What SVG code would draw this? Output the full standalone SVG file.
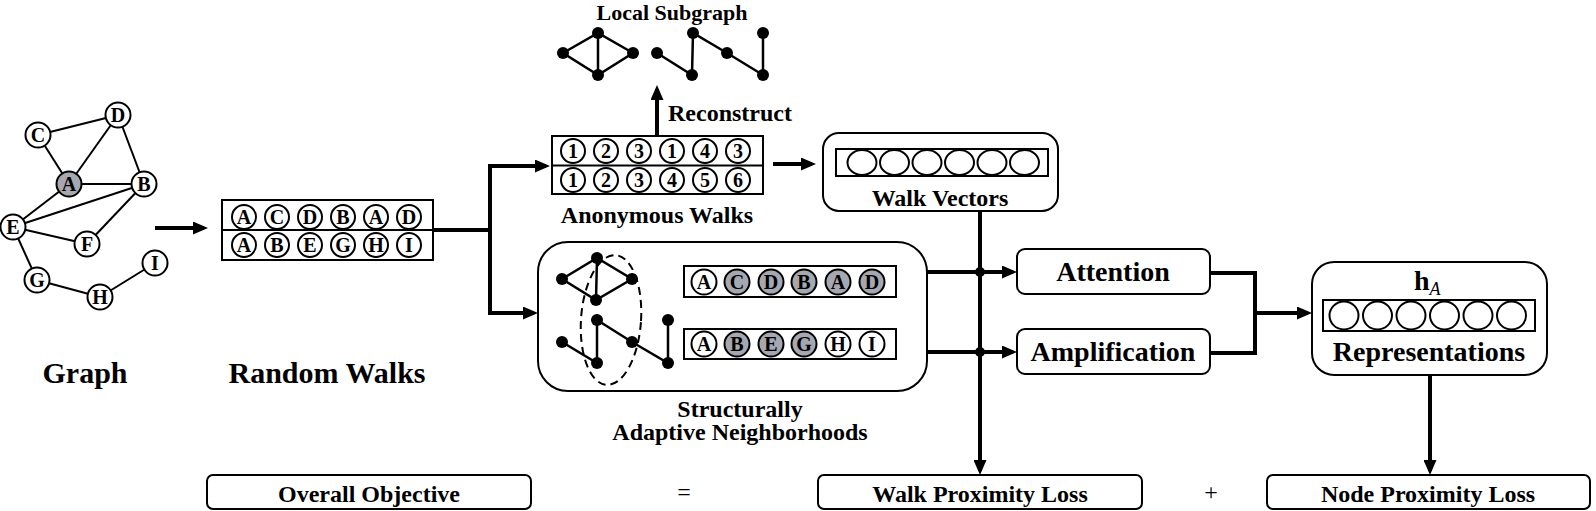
<svg xmlns="http://www.w3.org/2000/svg" width="1596" height="511" viewBox="0 0 1596 511">
<style>
.t{font-family:"Liberation Serif","Times New Roman",serif;font-weight:bold;text-anchor:middle;fill:#000}
.lbl{font-size:20px}
.n{fill:#fff;stroke:#000;stroke-width:2}
.gr{fill:#a5a8b0}
.e{stroke:#000;stroke-width:2;fill:none}
.e2{stroke:#000;stroke-width:2.5;fill:none}
.dot{fill:#000}
.box{fill:#fff;stroke:#000;stroke-width:2}
.c{stroke:#000;stroke-width:4;fill:none}
</style>
<defs>
<marker id="ah" markerUnits="userSpaceOnUse" markerWidth="15" markerHeight="13" refX="11" refY="6.5" orient="auto">
<path d="M0,0 L15,6.5 L0,13 z" fill="#000"/>
</marker>
</defs>

<!-- Graph -->
<g id="graph">
<g class="e">
<line x1="38" y1="135" x2="118" y2="115"/>
<line x1="38" y1="135" x2="69" y2="184"/>
<line x1="69" y1="184" x2="118" y2="115"/>
<line x1="118" y1="115" x2="144" y2="184"/>
<line x1="69" y1="184" x2="144" y2="184"/>
<line x1="69" y1="184" x2="13" y2="227"/>
<line x1="13" y1="227" x2="144" y2="184"/>
<line x1="13" y1="227" x2="87" y2="244"/>
<line x1="87" y1="244" x2="144" y2="184"/>
<line x1="13" y1="227" x2="37" y2="280"/>
<line x1="37" y1="280" x2="100" y2="297"/>
<line x1="100" y1="297" x2="155" y2="263"/>
</g>
<circle class="n" cx="38" cy="135" r="12.5"/><text class="t lbl" x="38" y="142">C</text>
<circle class="n" cx="118" cy="115" r="12.5"/><text class="t lbl" x="118" y="122">D</text>
<circle class="n gr" cx="69" cy="184" r="12.5"/><text class="t lbl" x="69" y="191">A</text>
<circle class="n" cx="144" cy="184" r="12.5"/><text class="t lbl" x="144" y="191">B</text>
<circle class="n" cx="13" cy="227" r="12.5"/><text class="t lbl" x="13" y="234">E</text>
<circle class="n" cx="87" cy="244" r="12.5"/><text class="t lbl" x="87" y="251">F</text>
<circle class="n" cx="37" cy="280" r="12.5"/><text class="t lbl" x="37" y="287">G</text>
<circle class="n" cx="100" cy="297" r="12.5"/><text class="t lbl" x="100" y="304">H</text>
<circle class="n" cx="155" cy="263" r="12.5"/><text class="t lbl" x="155" y="270">I</text>
<text class="t" x="85" y="383" font-size="30">Graph</text>
</g>

<!-- Random Walks -->
<g id="random-walks">
<rect class="box" x="222" y="200" width="211" height="60"/>
<line class="e" x1="222" y1="230" x2="433" y2="230"/>
<circle class="n" cx="244" cy="217" r="12"/><text class="t lbl" x="244" y="224">A</text>
<circle class="n" cx="277" cy="217" r="12"/><text class="t lbl" x="277" y="224">C</text>
<circle class="n" cx="310" cy="217" r="12"/><text class="t lbl" x="310" y="224">D</text>
<circle class="n" cx="343" cy="217" r="12"/><text class="t lbl" x="343" y="224">B</text>
<circle class="n" cx="376" cy="217" r="12"/><text class="t lbl" x="376" y="224">A</text>
<circle class="n" cx="409" cy="217" r="12"/><text class="t lbl" x="409" y="224">D</text>
<circle class="n" cx="244" cy="245" r="12"/><text class="t lbl" x="244" y="252">A</text>
<circle class="n" cx="277" cy="245" r="12"/><text class="t lbl" x="277" y="252">B</text>
<circle class="n" cx="310" cy="245" r="12"/><text class="t lbl" x="310" y="252">E</text>
<circle class="n" cx="343" cy="245" r="12"/><text class="t lbl" x="343" y="252">G</text>
<circle class="n" cx="376" cy="245" r="12"/><text class="t lbl" x="376" y="252">H</text>
<circle class="n" cx="409" cy="245" r="12"/><text class="t lbl" x="409" y="252">I</text>
<text class="t" x="327" y="383" font-size="30">Random Walks</text>
</g>

<!-- Local Subgraph -->
<g id="local-subgraph">
<text class="t" x="672" y="20" font-size="22">Local Subgraph</text>
<g class="e2">
<polygon points="563,53 598,33 633,53 598,75"/>
<line x1="598" y1="33" x2="598" y2="75"/>
<polyline points="657,53 692,75 693,33 727,53 763,75 763,33"/>
</g>
<g class="dot">
<circle cx="563" cy="53" r="6"/><circle cx="598" cy="33" r="6"/><circle cx="633" cy="53" r="6"/><circle cx="598" cy="75" r="6"/>
<circle cx="657" cy="53" r="6"/><circle cx="692" cy="75" r="6"/><circle cx="693" cy="33" r="6"/><circle cx="727" cy="53" r="6"/><circle cx="763" cy="75" r="6"/><circle cx="763" cy="33" r="6"/>
</g>
</g>

<!-- Anonymous Walks -->
<g id="anonymous-walks">
<rect class="box" x="552" y="136" width="211" height="58"/>
<line class="e" x1="552" y1="165.5" x2="763" y2="165.5"/>
<circle class="n" cx="573" cy="151" r="12"/><text class="t lbl" x="573" y="158">1</text>
<circle class="n" cx="606" cy="151" r="12"/><text class="t lbl" x="606" y="158">2</text>
<circle class="n" cx="639" cy="151" r="12"/><text class="t lbl" x="639" y="158">3</text>
<circle class="n" cx="672" cy="151" r="12"/><text class="t lbl" x="672" y="158">1</text>
<circle class="n" cx="705" cy="151" r="12"/><text class="t lbl" x="705" y="158">4</text>
<circle class="n" cx="738" cy="151" r="12"/><text class="t lbl" x="738" y="158">3</text>
<circle class="n" cx="573" cy="180" r="12"/><text class="t lbl" x="573" y="187">1</text>
<circle class="n" cx="606" cy="180" r="12"/><text class="t lbl" x="606" y="187">2</text>
<circle class="n" cx="639" cy="180" r="12"/><text class="t lbl" x="639" y="187">3</text>
<circle class="n" cx="672" cy="180" r="12"/><text class="t lbl" x="672" y="187">4</text>
<circle class="n" cx="705" cy="180" r="12"/><text class="t lbl" x="705" y="187">5</text>
<circle class="n" cx="738" cy="180" r="12"/><text class="t lbl" x="738" y="187">6</text>
<text class="t" x="657" y="223" font-size="24">Anonymous Walks</text>
</g>

<!-- Walk Vectors -->
<g id="walk-vectors">
<rect class="box" x="823" y="133" width="235" height="78" rx="16"/>
<rect class="box" x="836" y="149" width="212" height="27"/>
<g class="n">
<ellipse cx="862" cy="162.5" rx="14.5" ry="12.5"/>
<ellipse cx="894.5" cy="162.5" rx="14.5" ry="12.5"/>
<ellipse cx="927" cy="162.5" rx="14.5" ry="12.5"/>
<ellipse cx="959.5" cy="162.5" rx="14.5" ry="12.5"/>
<ellipse cx="992" cy="162.5" rx="14.5" ry="12.5"/>
<ellipse cx="1024.5" cy="162.5" rx="14.5" ry="12.5"/>
</g>
<text class="t" x="940" y="206" font-size="24">Walk Vectors</text>
</g>

<!-- Structurally Adaptive Neighborhoods -->
<g id="san">
<rect class="box" x="538" y="242" width="389" height="149" rx="30"/>
<g class="e2">
<polygon points="562,279 597,258 632,279 596,300"/>
<line x1="597" y1="258" x2="596" y2="300"/>
<polyline points="562,342 597,363 597,320 632,342 668,363 668,320"/>
</g>
<g class="dot">
<circle cx="562" cy="279" r="6"/><circle cx="597" cy="258" r="6"/><circle cx="632" cy="279" r="6"/><circle cx="596" cy="300" r="6"/>
<circle cx="562" cy="342" r="6"/><circle cx="597" cy="363" r="6"/><circle cx="597" cy="320" r="6"/><circle cx="632" cy="342" r="6"/><circle cx="668" cy="363" r="6"/><circle cx="668" cy="320" r="6"/>
</g>
<ellipse cx="611" cy="320" rx="30" ry="65" transform="rotate(4 611 320)" fill="none" stroke="#000" stroke-width="2" stroke-dasharray="8,5"/>
<rect class="box" x="684" y="266" width="212" height="31"/>
<circle class="n" cx="704" cy="282" r="12.5"/><text class="t lbl" x="704" y="289">A</text>
<circle class="n gr" cx="737" cy="282" r="12.5"/><text class="t lbl" x="737" y="289">C</text>
<circle class="n gr" cx="771" cy="282" r="12.5"/><text class="t lbl" x="771" y="289">D</text>
<circle class="n gr" cx="804" cy="282" r="12.5"/><text class="t lbl" x="804" y="289">B</text>
<circle class="n gr" cx="838" cy="282" r="12.5"/><text class="t lbl" x="838" y="289">A</text>
<circle class="n gr" cx="872" cy="282" r="12.5"/><text class="t lbl" x="872" y="289">D</text>
<rect class="box" x="684" y="329" width="212" height="30"/>
<circle class="n" cx="704" cy="344" r="12.5"/><text class="t lbl" x="704" y="351">A</text>
<circle class="n gr" cx="737" cy="344" r="12.5"/><text class="t lbl" x="737" y="351">B</text>
<circle class="n gr" cx="771" cy="344" r="12.5"/><text class="t lbl" x="771" y="351">E</text>
<circle class="n gr" cx="804" cy="344" r="12.5"/><text class="t lbl" x="804" y="351">G</text>
<circle class="n" cx="838" cy="344" r="12.5"/><text class="t lbl" x="838" y="351">H</text>
<circle class="n" cx="872" cy="344" r="12.5"/><text class="t lbl" x="872" y="351">I</text>
<text class="t" x="740" y="417" font-size="24">Structurally</text>
<text class="t" x="740" y="440" font-size="24">Adaptive Neighborhoods</text>
</g>

<!-- Attention -->
<g id="attention">
<rect class="box" x="1017" y="249" width="193" height="45" rx="8"/>
<text class="t" x="1113" y="281" font-size="28">Attention</text>
</g>
<g id="amplification">
<rect class="box" x="1017" y="329" width="193" height="45" rx="8"/>
<text class="t" x="1113" y="361" font-size="28">Amplification</text>
</g>

<!-- Representations -->
<g id="representations">
<rect class="box" x="1312" y="262" width="235" height="113" rx="22"/>
<text class="t" x="1414" y="290" font-size="28" style="text-anchor:start">h<tspan font-size="18" font-style="italic" font-weight="normal" dy="5">A</tspan></text>
<rect class="box" x="1323" y="300" width="212" height="31"/>
<g class="n">
<ellipse cx="1344" cy="315.5" rx="14.5" ry="14"/>
<ellipse cx="1377.5" cy="315.5" rx="14.5" ry="14"/>
<ellipse cx="1411" cy="315.5" rx="14.5" ry="14"/>
<ellipse cx="1444.5" cy="315.5" rx="14.5" ry="14"/>
<ellipse cx="1478" cy="315.5" rx="14.5" ry="14"/>
<ellipse cx="1511.5" cy="315.5" rx="14.5" ry="14"/>
</g>
<text class="t" x="1429" y="361" font-size="28">Representations</text>
</g>

<!-- Bottom -->
<g id="overall-objective">
<rect class="box" x="207" y="475" width="324" height="34" rx="6"/>
<text class="t" x="369" y="502" font-size="24">Overall Objective</text>
</g>
<text x="684" y="500" font-family="Liberation Serif, serif" font-size="24" text-anchor="middle">=</text>
<g id="walk-proximity-loss">
<rect class="box" x="818" y="475" width="324" height="34" rx="6"/>
<text class="t" x="980" y="502" font-size="24">Walk Proximity Loss</text>
</g>
<text x="1211" y="500" font-family="Liberation Serif, serif" font-size="24" text-anchor="middle">+</text>
<g id="node-proximity-loss">
<rect class="box" x="1267" y="475" width="323" height="34" rx="6"/>
<text class="t" x="1428" y="502" font-size="24">Node Proximity Loss</text>
</g>

<!-- Connectors -->
<g id="connectors">
<path class="c" d="M155,228 H204" marker-end="url(#ah)"/>
<path class="c" d="M433,230 H490 V166 H546" marker-end="url(#ah)"/>
<path class="c" d="M490,228 V313 H534" marker-end="url(#ah)"/>
<path class="c" d="M657,136 V89" marker-end="url(#ah)"/>
<text class="t" x="668" y="121" font-size="24" style="text-anchor:start">Reconstruct</text>
<path class="c" d="M773,164 H812" marker-end="url(#ah)"/>
<path class="c" d="M980,211 V471" marker-end="url(#ah)"/>
<path class="c" d="M927,272 H1013" marker-end="url(#ah)"/>
<path class="c" d="M927,352 H1013" marker-end="url(#ah)"/>
<circle cx="980" cy="272" r="5" fill="#000"/>
<circle cx="980" cy="352" r="5" fill="#000"/>
<path class="c" d="M1210,273 H1255 V353 H1210"/>
<path class="c" d="M1255,313 H1308" marker-end="url(#ah)"/>
<path class="c" d="M1430,375 V471" marker-end="url(#ah)"/>
</g>
</svg>
